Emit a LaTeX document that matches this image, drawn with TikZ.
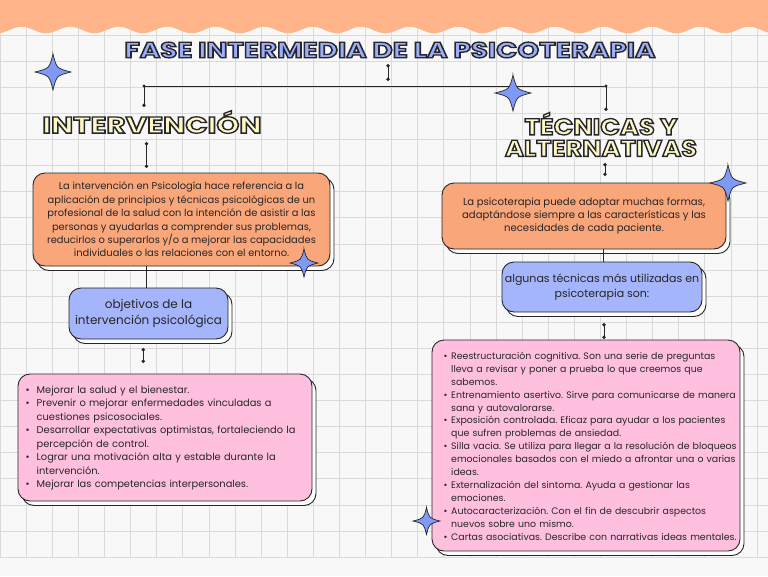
\documentclass[tikz,border=0pt]{standalone}
\usepackage{fontspec}
\setmainfont{Poppins}
\usetikzlibrary{shadows,arrows.meta}
\definecolor{bgc}{HTML}{F8F8F8}
\definecolor{gridc}{HTML}{DADADA}
\definecolor{bandc}{HTML}{FFB48A}
\definecolor{orangebox}{HTML}{FAA67B}
\definecolor{bluebox}{HTML}{A5B5FB}
\definecolor{pinkbox}{HTML}{FFC0DF}
\definecolor{starc}{HTML}{7F99F7}
\definecolor{titleblue}{HTML}{9DADF7}
\definecolor{headyellow}{HTML}{FFF8C2}
\definecolor{ink}{HTML}{262626}
\frenchspacing
\newcommand\outl[1]{\special{pdf:literal direct 2 Tr 1.3 w 0.15 0.15 0.18 RG}#1\special{pdf:literal direct 0 Tr}}
\newcommand\bulA{\makebox[11pt][l]{\textbullet}}
\newcommand\indA{\hspace*{11pt}}
\newcommand\bulB{\makebox[7.5pt][l]{\textbullet}}
\newcommand\indB{\hspace*{7.5pt}}
\tikzset{
  box/.style={draw=ink, line width=0.9pt, rounded corners=12pt, text=ink,
    copy shadow={shadow xshift=4pt, shadow yshift=-4.5pt, fill=white, draw=ink, opacity=1, line width=0.9pt},
    inner sep=0pt},
  conn/.style={draw=ink, line width=0.9pt, {Circle[length=3.4pt]}-{Circle[length=3.4pt]}},
  plain/.style={draw=ink, line width=0.9pt},
  sparkle/.pic={\draw[fill=starc, draw=ink, line width=0.7pt] (0,-1) .. controls (0.2,-0.2) .. (1,0) .. controls (0.2,0.2) .. (0,1) .. controls (-0.2,0.2) .. (-1,0) .. controls (-0.2,-0.2) .. cycle;},
  titletext/.style={font=\fontsize{22}{22}\bfseries, text=titleblue, inner sep=0pt},
  headtext/.style={font=\fontsize{23}{23}\bfseries, text=headyellow, inner sep=0pt, align=center},
  listtext/.style={align=left, inner sep=0pt, text=ink, anchor=north west}
}
\begin{document}
\begin{tikzpicture}[x=1pt,y=-1pt]
\useasboundingbox (0,0) rectangle (768,576);
\fill[bgc] (0,0) rectangle (768,576);
\foreach \i in {0,...,29} \draw[gridc, line width=0.6pt] (26.1*\i,0) -- (26.1*\i,557);
\foreach \j in {0,...,21} \draw[gridc, line width=0.6pt] (0,557-26.1*\j) -- (768,557-26.1*\j);
\fill[bandc] (0,0) -- (768,0) -- plot[domain=768:0, samples=240] (\x,{30-3.3*cos(7.4227*(\x-21.7))}) -- cycle;

% title
\node[titletext] (title) at (390,50) {\scalebox{1.265}[1]{\outl{FASE INTERMEDIA DE LA PSICOTERAPIA}}};
\coordinate (t1) at (388,64);
\coordinate (t2) at (388,81);
\draw[conn] (t1) -- (t2);
\coordinate (hl0) at (144,86);
\coordinate (hl1) at (144,107);
\coordinate (hr0) at (606,86);
\coordinate (hr1) at (606,111);
\draw[conn] (hl1) -- (hl0) -- (hr0) -- (hr1);
\fill[ink] (hl0) circle (1.7) (hr0) circle (1.7);

% left branch
\node[headtext] (hint) at (152,122) {\scalebox{1.28}[1]{\outl{INTERVENCIÓN}}};
\coordinate (l1) at (146.5,142);
\coordinate (l2) at (146.5,168);
\draw[conn] (l1) -- (l2);

\node[box, fill=orangebox, minimum width=297pt, minimum height=93pt, align=center,
  font=\fontsize{9.9}{13.4}\selectfont] (intro) at (181.5,219.5)
  {La intervención en Psicología hace referencia a la\\
   aplicación de principios y técnicas psicológicas de un\\
   profesional de la salud con la intención de asistir a las\\
   personas y ayudarlas a comprender sus problemas,\\
   reducirlos o superarlos y/o a mejorar las capacidades\\
   individuales o las relaciones con el entorno.};

\node[box, fill=bluebox, minimum width=159pt, minimum height=51pt, align=center,
  font=\fontsize{12}{16}\selectfont] (obj) at (148.5,313.5)
  {objetivos de la\\ intervención psicológica};
\draw[plain] (obj.north -| 146.7,0) -- (146.7,266);

\coordinate (o1) at (143.3,348);
\coordinate (o2) at (143.3,363);
\draw[conn] (o1) -- (o2);

\node[box, fill=pinkbox, minimum width=294pt, minimum height=127pt] (lpink) at (165,437.5) {};
\node[listtext, text width=290pt, font=\fontsize{9.85}{13.5}\selectfont] (ltext) at (25.5,385.5)
  {\bulA Mejorar la salud y el bienestar.\\
   \bulA Prevenir o mejorar enfermedades vinculadas a\\
   \indA cuestiones psicosociales.\\
   \bulA Desarrollar expectativas optimistas, fortaleciendo la\\
   \indA percepción de control.\\
   \bulA Lograr una motivación alta y estable durante la\\
   \indA intervención.\\
   \bulA Mejorar las competencias interpersonales.};

% right branch
\node[headtext, font=\fontsize{23}{21.5}\bfseries] (htec) at (601,134.5) {\scalebox{1.12}[1]{\outl{TÉCNICAS Y}}\\ \scalebox{1.12}[1]{\outl{ALTERNATIVAS}}};
\coordinate (r1) at (605,163);
\coordinate (r2) at (605,176);
\draw[conn] (r1) -- (r2);

\node[box, fill=orangebox, minimum width=284pt, minimum height=66pt, align=center,
  font=\fontsize{10.1}{13.2}\selectfont] (rintro) at (584,216)
  {La psicoterapia puede adoptar muchas formas,\\
   adaptándose siempre a las características y las\\
   necesidades de cada paciente.};

\node[box, fill=bluebox, minimum width=200pt, minimum height=50pt, align=center,
  font=\fontsize{11}{15.7}\selectfont] (alg) at (602,287)
  {algunas técnicas más utilizadas en\\ psicoterapia son:};
\draw[plain] (alg.north -| 603,0) -- (603,249);

\coordinate (a1) at (604,323);
\coordinate (a2) at (604,339);
\draw[conn] (a1) -- (a2);

\node[box, fill=pinkbox, minimum width=308pt, minimum height=211pt] (rpink) at (586,445.5) {};
\node[listtext, text width=340pt, font=\fontsize{9.4}{12.9}\selectfont] (rtext) at (443.5,351.8)
  {\bulB Reestructuración cognitiva. Son una serie de preguntas\\
   \indB lleva a revisar y poner a prueba lo que creemos que\\
   \indB sabemos.\\
   \bulB Entrenamiento asertivo. Sirve para comunicarse de manera\\
   \indB sana y autovalorarse.\\
   \bulB Exposición controlada. Eficaz para ayudar a los pacientes\\
   \indB que sufren problemas de ansiedad.\\
   \bulB Silla vacia. Se utiliza para llegar a la resolución de bloqueos\\
   \indB emocionales basados con el miedo a afrontar una o varias\\
   \indB ideas.\\
   \bulB Externalización del sintoma. Ayuda a gestionar las\\
   \indB emociones.\\
   \bulB Autocaracterización. Con el fin de descubrir aspectos\\
   \indB nuevos sobre uno mismo.\\
   \bulB Cartas asociativas. Describe con narrativas ideas mentales.};

% stars (on top)
\pic[scale=18] at (53,72) {sparkle};
\pic[scale=18] at (513,93) {sparkle};
\pic[scale=14] at (304,263) {sparkle};
\pic[scale=18] at (728,183) {sparkle};
\pic[scale=13.5] at (426.5,521) {sparkle};
\end{tikzpicture}
\end{document}
